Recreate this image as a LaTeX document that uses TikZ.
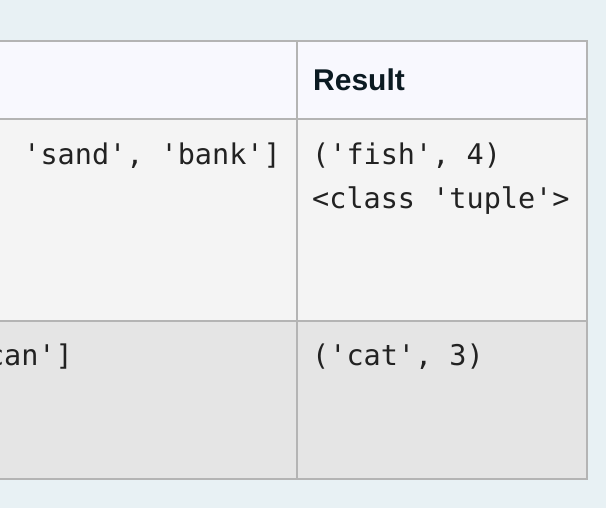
\documentclass[tikz,border=0pt]{standalone}
\usepackage{fontspec}
\newfontfamily\monof{DejaVu Sans Mono}
\newfontfamily\headf{Liberation Sans}
\definecolor{bg}{HTML}{E8F1F4}
\definecolor{hd}{HTML}{F8F8FE}
\definecolor{r1}{HTML}{F4F4F4}
\definecolor{r2}{HTML}{E5E5E5}
\definecolor{bd}{HTML}{B4B4B4}
\definecolor{tx}{HTML}{222222}
\definecolor{ht}{HTML}{0B1A22}
\begin{document}
\begin{tikzpicture}[x=1pt,y=-1pt,
  mono/.style={font=\monof\fontsize{28.5}{30}\selectfont,text=tx,inner sep=0pt,anchor=base west},
  head/.style={font=\headf\bfseries\fontsize{30}{32}\selectfont,text=ht,inner sep=0pt,anchor=base west}]
\useasboundingbox (0,0) rectangle (606,508);
\clip (0,0) rectangle (606,508);
\fill[bg] (0,0) rectangle (606,508);
\fill[hd] (-5,41) rectangle (587,119);
\fill[r1] (-5,119) rectangle (587,321);
\fill[r2] (-5,321) rectangle (587,479);
\draw[bd,line width=1.5] (-5,41) -- (587,41) -- (587,479) -- (-5,479);
\draw[bd,line width=1.5] (-5,119) -- (587,119);
\draw[bd,line width=1.5] (-5,321) -- (587,321);
\draw[bd,line width=2.5] (297,41) -- (297,479);
\node[head] (h) at (313,91) {Result};
\node[mono,anchor=base east] (a) at (281,165) {'sand', 'bank']};
\node[mono] (b) at (312,165) {('fish', 4)};
\node[mono] (c) at (312,209) {<class 'tuple'>};
\node[mono,anchor=base east] (d) at (73,366) {can']};
\node[mono] (e) at (312,366) {('cat', 3)};
\end{tikzpicture}
\end{document}
